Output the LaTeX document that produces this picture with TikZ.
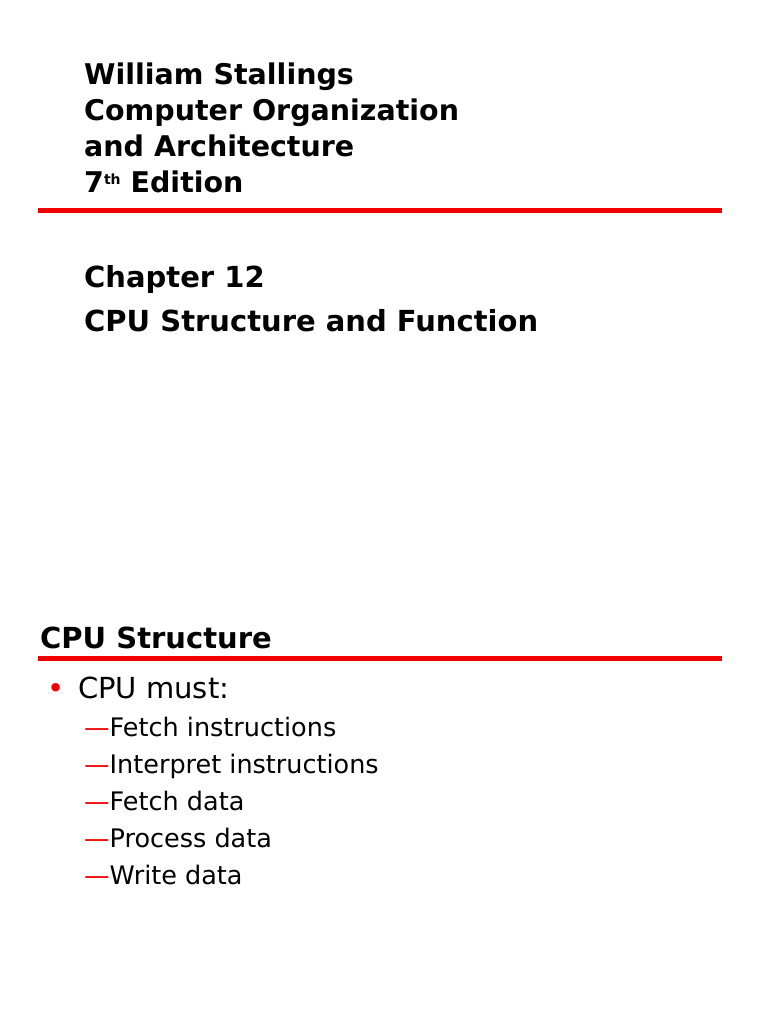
\documentclass[tikz,border=0pt]{standalone}
\usepackage{fontspec}
\setmainfont{DejaVu Sans}
\definecolor{rd}{RGB}{240,0,0}
\begin{document}
\begin{tikzpicture}[x=1pt,y=-1pt,
 tt/.style={anchor=base west,inner sep=0pt,font=\fontsize{28.5}{30}\selectfont\bfseries},
 ct/.style={anchor=base west,inner sep=0pt,font=\fontsize{29}{30}\selectfont\bfseries},
 bl/.style={anchor=base west,inner sep=0pt,font=\fontsize{29}{30}\selectfont},
 sb/.style={anchor=base west,inner sep=0pt,font=\fontsize{25.5}{28}\selectfont},
 rule/.style={draw=rd,line width=5pt}]
\useasboundingbox (0,0) rectangle (768,1024);
\node[tt] (t1) at (84,85) {William Stallings};
\node[tt] (t2) at (84,121) {Computer Organization};
\node[tt] (t3) at (84,157) {and Architecture};
\node[tt] (t4) at (84,193) {7{\fontsize{14}{14}\selectfont\raisebox{0.6em}{th}} Edition};
\draw[rule] (38,211) -- (722,211);
\node[ct] (c1) at (84,287) {Chapter 12};
\node[ct] (c2) at (84,331) {CPU Structure and Function};
\node[ct] (h) at (40,648) {CPU Structure};
\draw[rule] (38,658) -- (722,658);
\node[bl,text=rd] (bu) at (47,698) {•};
\node[bl] (b) at (78,698) {CPU must:};
\foreach \t [count=\i] in {Fetch instructions,Interpret instructions,Fetch data,Process data,Write data}
  \node[sb] (s\i) at (84,699+37*\i) {{\color{rd}—}\t};
\end{tikzpicture}
\end{document}
